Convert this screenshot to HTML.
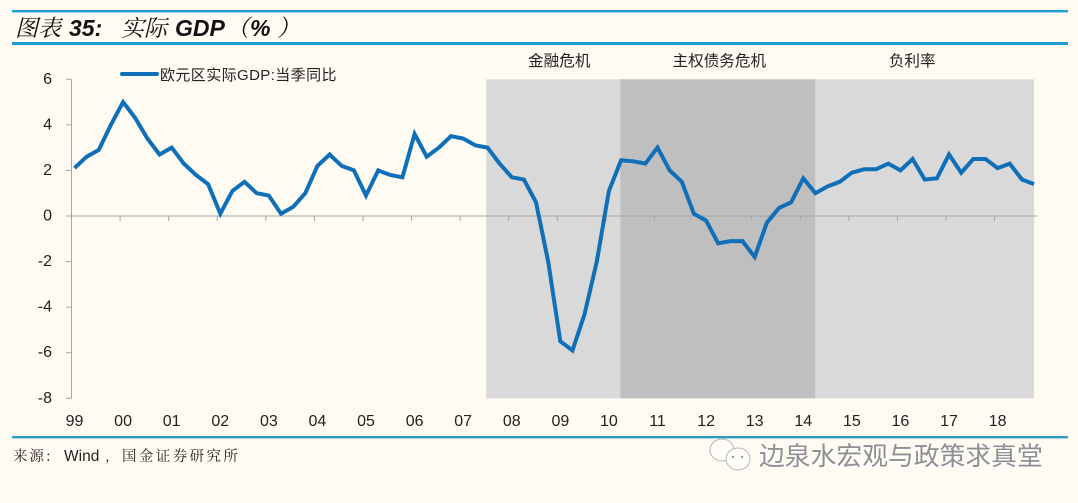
<!DOCTYPE html>
<html lang="zh">
<head>
<meta charset="utf-8">
<title>图表 35:实际 GDP(%)</title>
<style>
html,body{margin:0;padding:0;background:#fffbf2;}
svg{display:block;}
text{font-family:"Liberation Sans","Noto Sans CJK SC",sans-serif;}
.serif{font-family:"Noto Serif CJK SC",serif;}
</style>
</head>
<body>
<svg id="chart" xmlns="http://www.w3.org/2000/svg" width="1078" height="503" viewBox="0 0 1078 503">
  <rect x="0" y="0" width="1078" height="503" fill="#fffbf2"/>
  <rect x="12" y="10" width="1056" height="2.4" fill="#1b9ad6"/>
  <rect x="12" y="42" width="1056" height="3" fill="#1b9ad6"/>
  <text y="36" font-size="23" font-style="italic" fill="#111"><tspan class="serif" x="15">图表</tspan><tspan font-weight="bold" x="69">35:</tspan><tspan class="serif" x="121">实际</tspan><tspan font-weight="bold" x="175">GDP</tspan><tspan class="serif" x="226">（</tspan><tspan font-weight="bold" x="250">%</tspan><tspan class="serif" x="277">）</tspan></text>
  <g id="bands"></g>
  <g id="axes"></g>
  <g id="series"></g>
  <line x1="122" y1="74" x2="157" y2="74" stroke="#0f6fb8" stroke-width="4" stroke-linecap="round"/>
  <text x="160" y="80" font-size="15" fill="#222" letter-spacing="0.4">欧元区实际GDP:当季同比</text>
  <rect x="12" y="436" width="1056" height="2.4" fill="#2e9cc2"/>
  <text y="461" font-size="14.5" fill="#222"><tspan class="serif" x="13" letter-spacing="2">来源:</tspan><tspan font-size="15.5" x="64">Wind</tspan><tspan class="serif" x="105">,</tspan><tspan class="serif" x="122" letter-spacing="2.4">国金证券研究所</tspan></text>
  <g fill="#fffdf8" stroke="#b5b5b5" stroke-width="1">
    <ellipse cx="722" cy="450" rx="12" ry="11"/>
    <ellipse cx="738" cy="459" rx="12" ry="11"/>
    <circle cx="733" cy="457" r="1.2" fill="#999" stroke="none"/>
    <circle cx="742" cy="457" r="1.2" fill="#999" stroke="none"/>
  </g>
  <text x="760" y="466" font-size="25.8" fill="#ffffff" stroke="#ffffff" stroke-width="1.4">边泉水宏观与政策求真堂</text>
  <text x="759" y="465" font-size="25.8" fill="#8f8f8f">边泉水宏观与政策求真堂</text>
</svg>
<script>
var gdpValues = [2.1,2.6,2.9,4.0,5.0,4.3,3.4,2.7,3.0,2.3,1.8,1.4,0.1,1.1,1.5,1.0,0.9,0.1,0.4,1.0,2.2,2.7,2.2,2.0,0.9,2.0,1.8,1.7,3.6,2.6,3.0,3.5,3.4,3.1,3.0,2.3,1.7,1.6,0.6,-2.0,-5.5,-5.9,-4.3,-2.0,1.1,2.45,2.4,2.3,3.0,2.0,1.5,0.1,-0.2,-1.2,-1.1,-1.1,-1.8,-0.3,0.35,0.6,1.65,1.0,1.3,1.5,1.9,2.05,2.05,2.3,2.0,2.5,1.6,1.65,2.7,1.9,2.5,2.5,2.1,2.3,1.6,1.4];
var yearLabels = ["99","00","01","02","03","04","05","06","07","08","09","10","11","12","13","14","15","16","17","18"];
var yTickValues = [6,4,2,0,-2,-4,-6,-8];
var bandNames = ["金融危机","主权债务危机","负利率"];
var bandStarts = [33.9,44.93,61];
var bandEnds = [44.93,61,79];
var bandKeys = ["financial-crisis","sovereign-debt-crisis","negative-rates"];
var bandFills = ["#d9d9d9","#bfbfbf","#d9d9d9"];

var NS = "http://www.w3.org/2000/svg";
function xScale(i){ return 74.5 + 12.146 * i; }
function yScale(v){ return 216 - 22.79 * v; }
function make(parent, tag, attrs, txt){
  var el = document.createElementNS(NS, tag);
  for (var k in attrs) el.setAttribute(k, attrs[k]);
  if (txt !== undefined) el.textContent = txt;
  parent.appendChild(el);
  return el;
}
var bandsG = document.getElementById("bands");
var axesG = document.getElementById("axes");
var seriesG = document.getElementById("series");
var labelOffsets = {0:6, 1:1.5, 2:-12.5};

bandNames.forEach(function(name, i){
  var x0 = xScale(bandStarts[i]), x1 = xScale(bandEnds[i]);
  var r = make(bandsG, "rect", {x:x0, y:yScale(6), width:x1-x0, height:yScale(-8)-yScale(6), fill:bandFills[i]});
  
  
  var t = make(bandsG, "text", {x:(x0+x1)/2 + labelOffsets[i], y:66, "font-size":15.6, fill:"#222", "text-anchor":"middle"}, name);
  
  
});

var axisColor = "#a6a6a6";
var yAxis = make(axesG, "line", {x1:71.5, x2:71.5, y1:yScale(6), y2:yScale(-8), stroke:axisColor, "stroke-width":1});


var xAxis = make(axesG, "line", {x1:66, x2:1037, y1:yScale(0), y2:yScale(0), stroke:axisColor, "stroke-width":1});



yTickValues.forEach(function(v){
  var tk = make(axesG, "line", {x1:66, x2:71.5, y1:yScale(v), y2:yScale(v), stroke:axisColor, "stroke-width":1});
  
  
  var lb = make(axesG, "text", {x:52, y:yScale(v)+4.5, "font-size":16, fill:"#222", "text-anchor":"end"}, String(v));
  
  
});

yearLabels.forEach(function(lab, j){
  var q = j * 4;
  if (j > 0) {
    var tx = xScale(q) - 3;
    var tk = make(axesG, "line", {x1:tx, x2:tx, y1:yScale(0), y2:yScale(0)+5, stroke:axisColor, "stroke-width":1});
    
    
  }
  var lb = make(axesG, "text", {x:xScale(q), y:426, "font-size":16, fill:"#222", "text-anchor":"middle"}, lab);
  
  
});

var pts = gdpValues.map(function(v, i){ return xScale(i).toFixed(1) + "," + yScale(v).toFixed(1); }).join(" ");
var line = make(seriesG, "polyline", {points:pts, fill:"none", stroke:"#0f6fb8", "stroke-width":4, "stroke-linejoin":"miter", "stroke-miterlimit":3});


</script>
</body>
</html>
